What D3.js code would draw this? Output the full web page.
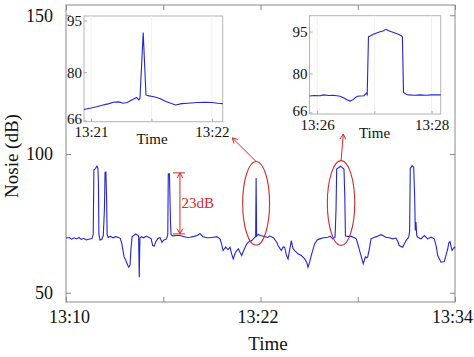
<!DOCTYPE html>
<html><head><meta charset="utf-8">
<script src="https://cdn.jsdelivr.net/npm/d3@7"></script>
<style>
body{margin:0;background:#fff;}
svg{display:block;font-family:"Liberation Serif","Times New Roman",serif;}
</style></head><body>
<svg id="chart" width="474" height="357"></svg>
<script>
// ---------- DATA ----------
// main trace: minutes after 13:10, noise in dB
const mainMinutes = [0,0.2,0.35,0.5,0.65,0.8,0.95,1.1,1.25,1.4,1.6,1.68,1.72,1.8,1.86,1.91,1.97,2.0,2.03,2.1,2.2,2.3,2.37,2.41,2.46,2.5,2.54,2.6,2.75,2.9,3.05,3.2,3.35,3.45,3.58,3.7,3.8,3.87,3.95,4.01,4.08,4.18,4.3,4.4,4.48,4.52,4.56,4.65,4.8,4.95,5.1,5.25,5.35,5.45,5.55,5.68,5.8,5.92,6.05,6.2,6.28,6.31,6.38,6.45,6.48,6.6,6.8,7.03,7.3,7.5,7.65,7.9,8.1,8.27,8.45,8.7,8.88,9.1,9.3,9.5,9.6,9.69,9.85,10.0,10.12,10.22,10.32,10.45,10.63,10.75,10.84,10.95,11.15,11.3,11.46,11.6,11.7,11.73,11.76,11.85,12.0,12.28,12.45,12.57,12.8,13.0,13.08,13.28,13.4,13.49,13.6,13.7,13.8,13.9,14.0,14.11,14.31,14.52,14.73,14.85,14.93,15.03,15.13,15.34,15.5,15.65,15.9,16.16,16.3,16.45,16.6,16.66,16.7,16.85,16.95,17.05,17.15,17.2,17.24,17.4,17.6,17.8,17.91,18.05,18.2,18.34,18.47,18.55,18.61,18.72,18.82,19.02,19.2,19.43,19.6,19.74,19.95,20.16,20.36,20.48,20.56,20.77,20.98,21.14,21.2,21.24,21.35,21.45,21.51,21.55,21.59,21.64,21.7,21.9,22.11,22.32,22.52,22.72,22.85,22.93,23.14,23.34,23.55,23.62,23.69,23.82,23.96,24.0];
const mainNoise = [69.7,69.9,69.3,69.8,69.4,69.9,69.2,69.6,69.0,69.3,69.5,71,94.3,94.6,95.2,95.6,94.8,90,71,69.0,69.2,70.5,80,93.4,93.5,85,71,70.0,70.3,69.8,70.2,70.0,69.6,67.5,63,61.5,60,59.2,60,66,70.2,70.6,71.2,70.8,70.5,55.6,69.8,70.2,69.8,70.4,70.0,69.5,67.0,66.8,68.5,69.6,69.8,68.2,69.0,69.4,71,92.8,92.9,75,70.9,70.5,70.6,70.6,70.2,69.9,70.0,70.3,70.6,71.3,70.2,69.8,69.8,70.0,70.2,69.4,67.5,65.2,66.4,65.5,66.4,64.0,62.2,64.5,65.8,64.4,63.4,65,67.6,68.4,68.8,69.7,70.2,91.3,70.4,71.0,70.6,70.2,69.9,70.4,69.8,68.2,67.0,65.2,66.5,66.4,63.5,62.2,65.5,68.8,66,65.2,64.0,63.4,62.2,61,59.2,61,63.4,67.6,69.0,69.4,69.8,70.0,70.4,69.4,70.0,80,94.6,95.2,95.6,95.1,94.6,85,70.4,70.3,70.3,69.8,69.4,66.5,63.4,60.4,62.9,62.6,62.8,66,69.4,70.0,70.3,70.9,70.4,70.0,69.8,69.4,69.7,68.4,67.0,66.4,68.8,70.0,72,94.8,95.8,95.2,85,72.4,75.5,70.6,70.0,69.4,70.6,69.4,70.0,69.4,66.5,63.4,61.0,61.2,65.8,68.0,68.4,65.2,66.4,66.0];
const mainTickMinutes = [0, 6, 12, 18, 24];
const mainTickLabels = ["13:10", "", "13:22", "", "13:34"];
const mainYTicks = [50, 100, 150];

// inset 1: minutes after 13:21
const inset1Minutes = [-0.058,0.0,0.047,0.1,0.15,0.184,0.23,0.267,0.3,0.33,0.36,0.378,0.395,0.405,0.432,0.455,0.47,0.52,0.57,0.62,0.7,0.75,0.8,0.88,0.95,1.0,1.05,1.09];
const inset1Noise = [69.2,69.6,70.0,70.5,70.9,71.3,71.4,71.0,71.2,71.8,72.4,72.7,72.0,72.4,91.5,73.4,73.2,72.9,72.4,71.5,70.5,70.9,71.0,71.2,71.3,71.2,71.0,70.9];
const inset1TickMinutes = [0, 0.5, 1];
const inset1TickLabels = ["13:21", "", "13:22"];

// inset 2: minutes after 13:26
const inset2Minutes = [-0.134,-0.05,0.05,0.11,0.2,0.28,0.344,0.4,0.46,0.52,0.576,0.63,0.67,0.705,0.76,0.82,0.86,0.875,0.897,0.94,0.984,1.04,1.10,1.15,1.205,1.25,1.30,1.36,1.42,1.47,1.49,1.51,1.55,1.595,1.7,1.80,1.9,2.0,2.16];
const inset2Noise = [71.9,72.1,72.0,72.3,72.1,72.2,72.0,71.8,71.3,70.6,70.1,70.6,71.4,71.8,71.9,72.0,72.9,72.4,93.1,93.6,94.0,94.5,94.9,95.2,95.8,95.3,94.9,94.5,94.0,93.5,93.1,73.2,72.6,72.3,72.2,72.3,72.2,72.3,72.3];
const inset2TickMinutes = [0, 1, 2];
const inset2TickLabels = ["13:26", "", "13:28"];
const insetYTicks = [66, 80, 95];

// annotations (data coords of main plot)
const gapMinute = 7.03, gapLow = 71.2, gapHigh = 93.2, gapLabel = "23dB";
const ellipseMinutes = [11.73, 16.97];
const ellipseCenterNoise = [82.2, 82.3];
const ellipseHalfWidthMin = [0.83, 0.845];
const ellipseHalfHeightDb = [15.1, 15.3];
const arrowTipMinutes = [10.26, 17.11];
const arrowTipNoise = [105.8, 107.2];

// ---------- DRAW ----------
const svg = d3.select("#chart");
const blue = "#2424dc", red = "#d42a2a", axisGray = "#8a8a8a";
const FONT = '"Liberation Serif","Times New Roman",serif';

const x = d3.scaleLinear().domain([0, 24]).range([66, 455]);
const y = d3.scaleLinear().domain([46.65, 153.7]).range([302, 5]);

const main = svg.append("g");
main.append("rect").attr("x", 66).attr("y", 5).attr("width", 389).attr("height", 297)
  .attr("fill", "#fff").attr("stroke", axisGray).attr("stroke-width", 1);

function styleAxis(g, fs) {
  g.attr("font-family", FONT);
  g.select(".domain").remove();
  g.selectAll(".tick line").attr("stroke", axisGray);
  g.selectAll(".tick text").attr("fill", "#111").style("font-size", fs + "px").style("font-family", FONT);
}

const labelShift = [3, 0, -3, 0, -3];
main.append("g").attr("transform", "translate(0,302)")
  .call(d3.axisBottom(x).tickValues(mainTickMinutes).tickFormat((d, i) => mainTickLabels[i]).tickSize(-5).tickPadding(8))
  .call(g => { styleAxis(g, 18); g.selectAll(".tick text").attr("dx", (d, i) => labelShift[i]); });
main.append("g").attr("transform", "translate(0,5)")
  .call(d3.axisTop(x).tickValues(mainTickMinutes).tickFormat("").tickSize(-5))
  .call(g => styleAxis(g, 18));
main.append("g").attr("transform", "translate(66,0)")
  .call(d3.axisLeft(y).tickValues(mainYTicks).tickSize(-5).tickPadding(13))
  .call(g => styleAxis(g, 18));
main.append("g").attr("transform", "translate(455,0)")
  .call(d3.axisRight(y).tickValues(mainYTicks).tickFormat("").tickSize(-5))
  .call(g => styleAxis(g, 18));

const mainData = mainMinutes.map((t, i) => [t, mainNoise[i]]);
main.append("path").datum(mainData)
  .attr("fill", "none").attr("stroke", blue).attr("stroke-width", 1.1)
  .attr("d", d3.line().x(d => x(d[0])).y(d => y(d[1])));

svg.append("text").attr("x", 268).attr("y", 350).attr("text-anchor", "middle")
  .style("font-size", "19px").attr("fill", "#111").text("Time");
svg.append("text").attr("transform", "translate(18,156) rotate(-90)").attr("text-anchor", "middle")
  .style("font-size", "19px").attr("fill", "#111").text("Nosie (dB)");

// annotations
function arrowHead(g, x1, y1, x2, y2, len) {
  const a = Math.atan2(y2 - y1, x2 - x1);
  const s = 0.5;
  g.append("path").attr("fill", "none").attr("stroke", red).attr("stroke-width", 1)
    .attr("d", `M${x2 - len * Math.cos(a - s)},${y2 - len * Math.sin(a - s)}L${x2},${y2}L${x2 - len * Math.cos(a + s)},${y2 - len * Math.sin(a + s)}`);
}
const ann = svg.append("g");
const gx = x(gapMinute), gy1 = y(gapHigh), gy2 = y(gapLow);
ann.append("line").attr("x1", gx).attr("x2", gx).attr("y1", gy1).attr("y2", gy2).attr("stroke", red).attr("stroke-width", 1);
ann.append("line").attr("x1", gx - 7).attr("x2", gx + 5).attr("y1", gy1).attr("y2", gy1).attr("stroke", red).attr("stroke-width", 1);
ann.append("line").attr("x1", gx - 7).attr("x2", gx + 5).attr("y1", gy2).attr("y2", gy2).attr("stroke", red).attr("stroke-width", 1);
arrowHead(ann, gx, gy2, gx, gy1, 6);
arrowHead(ann, gx, gy1, gx, gy2, 6);
ann.append("text").attr("x", gx + 1.5).attr("y", (gy1 + gy2) / 2 + 5).attr("fill", red)
  .style("font-size", "15px").text(gapLabel);

ellipseMinutes.forEach((t, i) => {
  const cx = x(t), cy = y(ellipseCenterNoise[i]);
  const rx = x(t + ellipseHalfWidthMin[i]) - cx;
  const ry = cy - y(ellipseCenterNoise[i] + ellipseHalfHeightDb[i]);
  ann.append("ellipse").attr("cx", cx).attr("cy", cy).attr("rx", rx).attr("ry", ry)
    .attr("fill", "none").attr("stroke", red).attr("stroke-width", 1.1);
  const sx = cx, sy = cy - ry;
  const tx = x(arrowTipMinutes[i]), ty = y(arrowTipNoise[i]);
  ann.append("line").attr("x1", sx).attr("y1", sy).attr("x2", tx).attr("y2", ty).attr("stroke", red).attr("stroke-width", 1);
  arrowHead(ann, sx, sy, tx, ty, 6);
});

// insets
function drawInset(cfg) {
  const g = svg.append("g");
  const ix = d3.scaleLinear().domain(cfg.xDomain).range([cfg.left, cfg.right]);
  const iy = d3.scaleLinear().domain(cfg.yDomain).range([cfg.bottom, cfg.top]);
  g.append("rect").attr("x", cfg.left).attr("y", cfg.top).attr("width", cfg.right - cfg.left).attr("height", cfg.bottom - cfg.top)
    .attr("fill", "#fff").attr("stroke", "#b4b4b4").attr("stroke-width", 1);
  g.append("g").selectAll("line").data(cfg.ticks).join("line")
    .attr("x1", d => ix(d)).attr("x2", d => ix(d)).attr("y1", cfg.top).attr("y2", cfg.bottom)
    .attr("stroke", "#f0f0f0");
  g.append("g").attr("transform", `translate(0,${cfg.bottom})`)
    .call(d3.axisBottom(ix).tickValues(cfg.ticks).tickFormat((d, i) => cfg.labels[i]).tickSize(-3).tickPadding(cfg.xPad))
    .call(a => { styleAxis(a, 15); a.selectAll(".tick line").attr("stroke", "#aaa"); });
  g.append("g").attr("transform", `translate(${cfg.left},0)`)
    .call(d3.axisLeft(iy).tickValues(insetYTicks).tickSize(-3).tickPadding(2))
    .call(a => { styleAxis(a, 15); a.selectAll(".tick line").attr("stroke", "#aaa");
      a.selectAll(".tick text").attr("dy", (d, i) => i === 0 ? "0.22em" : "0.32em"); });
  const data = cfg.t.map((t, i) => [t, cfg.v[i]]);
  g.append("path").datum(data).attr("fill", "none").attr("stroke", blue).attr("stroke-width", 1.1)
    .attr("d", d3.line().x(d => ix(d[0])).y(d => iy(d[1])));
  g.append("text").attr("x", cfg.timeX).attr("y", cfg.timeY).attr("text-anchor", "middle")
    .style("font-size", "15px").attr("fill", "#111").text("Time");
}
drawInset({ left: 84, right: 222.7, top: 16, bottom: 121.7, xDomain: [-0.058, 1.09], yDomain: [65.65, 96.3], xPad: 5,
  ticks: inset1TickMinutes, labels: inset1TickLabels, t: inset1Minutes, v: inset1Noise, timeX: 152, timeY: 143.5 });
drawInset({ left: 309.5, right: 440.7, top: 15.7, bottom: 114, xDomain: [-0.134, 2.16], yDomain: [65.46, 100.66], xPad: 5.5,
  ticks: inset2TickMinutes, labels: inset2TickLabels, t: inset2Minutes, v: inset2Noise, timeX: 374.5, timeY: 138 });
</script></body></html>
